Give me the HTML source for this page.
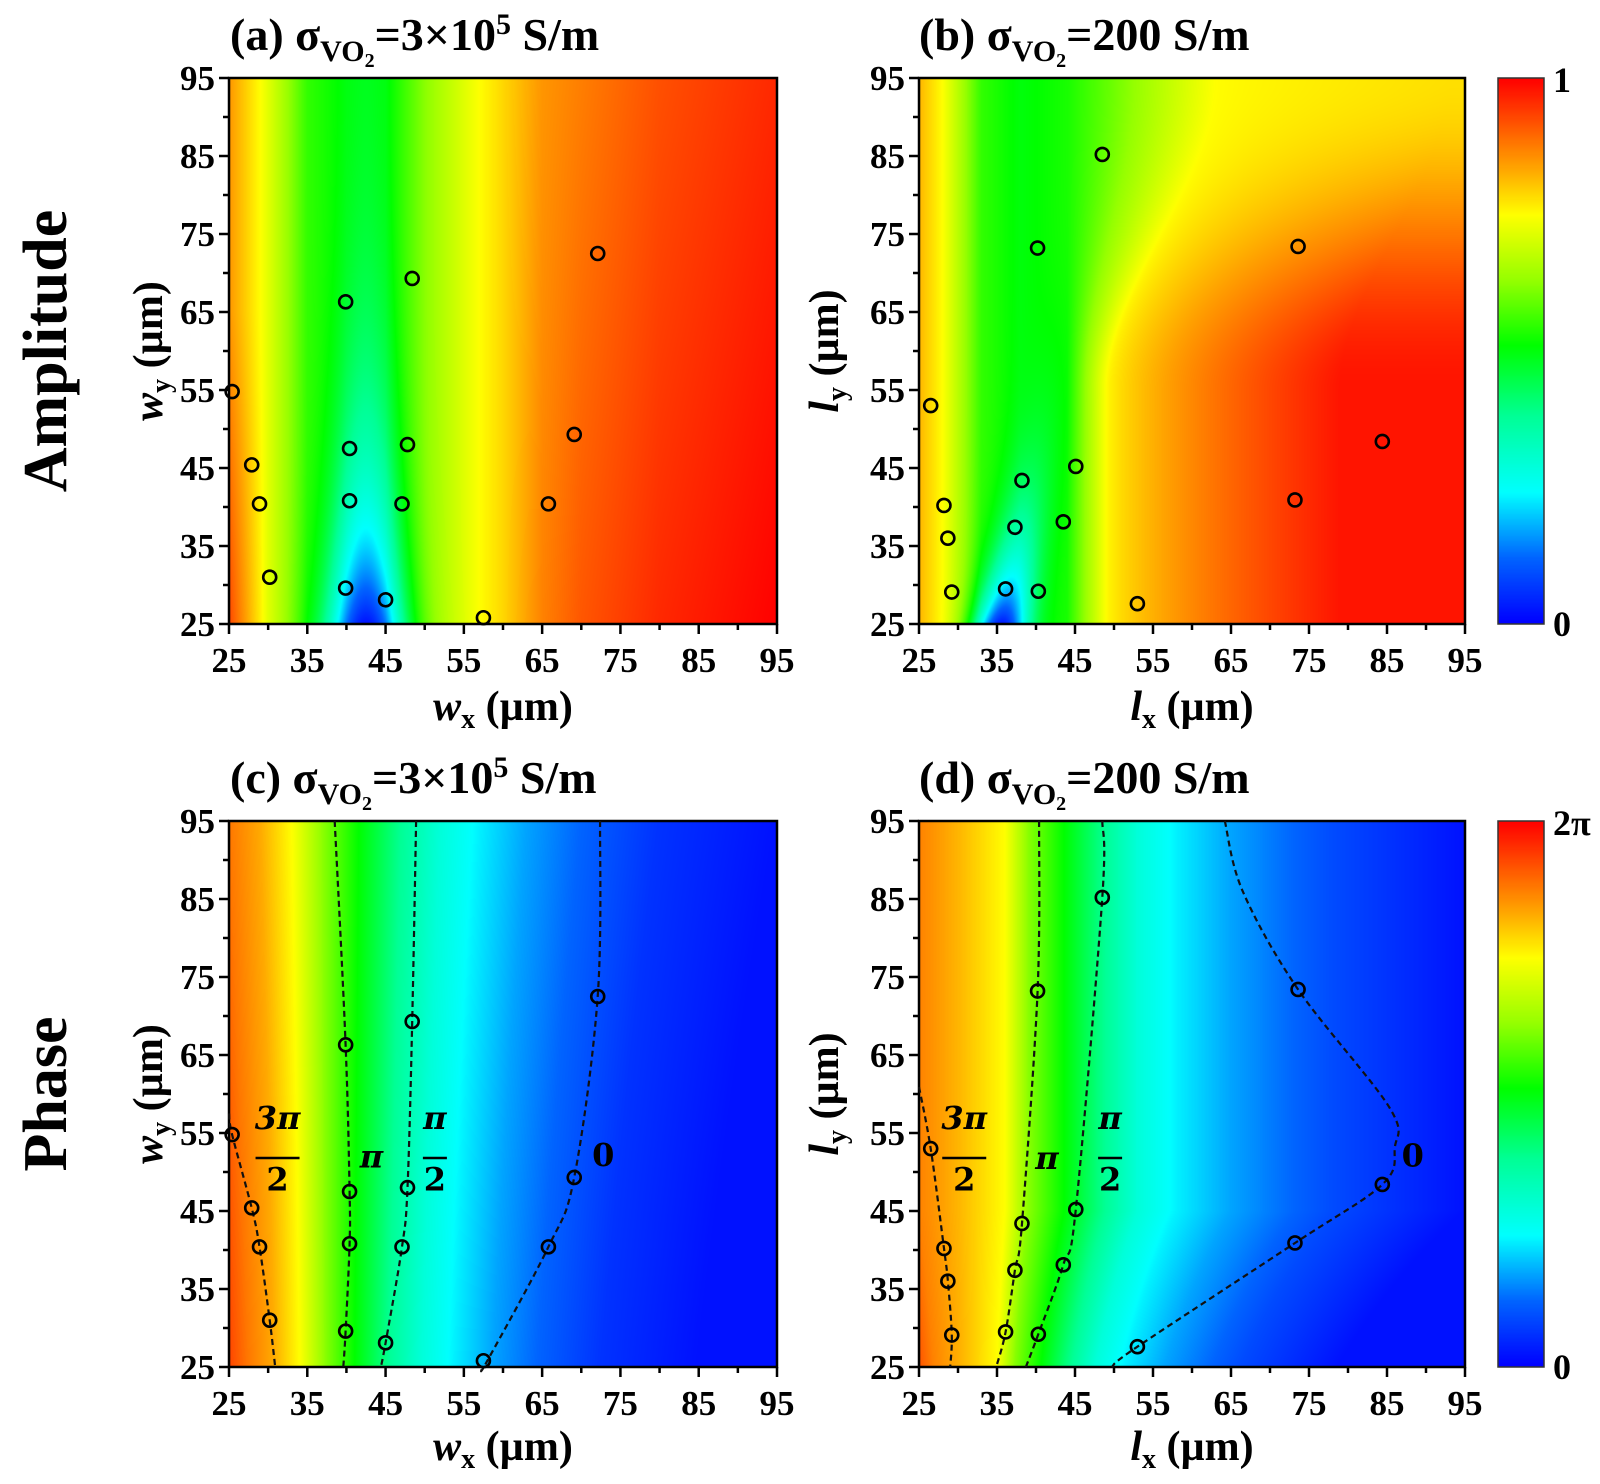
<!DOCTYPE html>
<html><head><meta charset="utf-8"><style>
html,body{margin:0;padding:0;background:#fff;}
#wrap{position:relative;width:1600px;height:1484px;overflow:hidden;background:#fff;}
canvas{position:absolute;}
svg{position:absolute;left:0;top:0;}
.t{font-family:"Liberation Serif",serif;font-weight:bold;fill:#000;}
.m{font-family:"DejaVu Serif","Liberation Serif",serif;font-weight:bold;fill:#000;}
</style></head><body><div id="wrap">
<canvas id="ca" width="548" height="546" style="left:229px;top:78px"></canvas>
<canvas id="cb" width="546" height="546" style="left:919px;top:78px"></canvas>
<canvas id="cc" width="548" height="546" style="left:229px;top:821px"></canvas>
<canvas id="cd" width="546" height="546" style="left:919px;top:821px"></canvas>
<canvas id="cbar1" width="46" height="546" style="left:1498px;top:78px"></canvas>
<canvas id="cbar2" width="46" height="546" style="left:1498px;top:821px"></canvas>
<svg id="ov" width="1600" height="1484" xmlns="http://www.w3.org/2000/svg">
<g class="t" font-size="46">
<text x="230" y="50">(a) σ<tspan dy="11" font-size="30">VO</tspan><tspan dy="6" font-size="20">2</tspan><tspan dy="-17">=3×10</tspan><tspan dy="-16" font-size="30">5</tspan><tspan dy="16"> S/m</tspan></text>
<text x="919" y="50">(b) σ<tspan dy="11" font-size="30">VO</tspan><tspan dy="6" font-size="20">2</tspan><tspan dy="-17">=200 S/m</tspan></text>
<text x="230" y="793">(c) σ<tspan dy="11" font-size="30">VO</tspan><tspan dy="6" font-size="20">2</tspan><tspan dy="-17">=3×10</tspan><tspan dy="-16" font-size="30">5</tspan><tspan dy="16"> S/m</tspan></text>
<text x="919" y="793">(d) σ<tspan dy="11" font-size="30">VO</tspan><tspan dy="6" font-size="20">2</tspan><tspan dy="-17">=200 S/m</tspan></text>
</g>
<g class="t" font-size="42">
<text x="503" y="720" text-anchor="middle"><tspan font-style="italic">w</tspan><tspan dy="8" font-size="28">x</tspan><tspan dy="-8"> (µm)</tspan></text>
<text x="1192" y="720" text-anchor="middle"><tspan font-style="italic">l</tspan><tspan dy="8" font-size="28">x</tspan><tspan dy="-8"> (µm)</tspan></text>
<text x="503" y="1460" text-anchor="middle"><tspan font-style="italic">w</tspan><tspan dy="8" font-size="28">x</tspan><tspan dy="-8"> (µm)</tspan></text>
<text x="1192" y="1460" text-anchor="middle"><tspan font-style="italic">l</tspan><tspan dy="8" font-size="28">x</tspan><tspan dy="-8"> (µm)</tspan></text>

<text transform="translate(162,351) rotate(-90)" text-anchor="middle"><tspan font-style="italic">w</tspan><tspan dy="8" font-size="28">y</tspan><tspan dy="-8"> (µm)</tspan></text>
<text transform="translate(838,351) rotate(-90)" text-anchor="middle"><tspan font-style="italic">l</tspan><tspan dy="8" font-size="28">y</tspan><tspan dy="-8"> (µm)</tspan></text>
<text transform="translate(162,1094) rotate(-90)" text-anchor="middle"><tspan font-style="italic">w</tspan><tspan dy="8" font-size="28">y</tspan><tspan dy="-8"> (µm)</tspan></text>
<text transform="translate(838,1094) rotate(-90)" text-anchor="middle"><tspan font-style="italic">l</tspan><tspan dy="8" font-size="28">y</tspan><tspan dy="-8"> (µm)</tspan></text>
</g>
<g class="t" font-size="62">
<text transform="translate(66,351) rotate(-90)" text-anchor="middle">Amplitude</text>
<text transform="translate(66,1094) rotate(-90)" text-anchor="middle">Phase</text>
</g>
<g class="t" font-size="36">
<text x="1553" y="92">1</text>
<text x="1553" y="636">0</text>
<text x="1553" y="835">2π</text>
<text x="1553" y="1379">0</text>
</g>
<g id="dyn"></g>
</svg>
</div>
<script>
(function(){
var NS="http://www.w3.org/2000/svg";
var dyn=document.getElementById('dyn');
function el(n,a){var e=document.createElementNS(NS,n);for(var k in a)e.setAttribute(k,a[k]);dyn.appendChild(e);return e;}
var P={a:{x0:229,y0:78,w:548,h:546},b:{x0:919,y0:78,w:546,h:546},c:{x0:229,y0:821,w:548,h:546},d:{x0:919,y0:821,w:546,h:546}};
function px(p,x){return p.x0+(x-25)/70*p.w;}
function py(p,y){return p.y0+(95-y)/70*p.h;}
function interp(t,x){if(x<=t[0][0])return t[0][1];for(var i=1;i<t.length;i++){if(x<=t[i][0]){var a=t[i-1],b=t[i];return a[1]+(b[1]-a[1])*(x-a[0])/(b[0]-a[0]);}}return t[t.length-1][1];}
var CM=[[0,0,0,255],[0.12,0,100,255],[0.24,0,255,255],[0.38,0,255,150],[0.51,0,255,0],[0.63,150,255,0],[0.75,255,255,0],[0.84,255,160,0],[0.92,255,80,0],[1,255,0,0]];
function cmap(v){v=Math.max(0,Math.min(1,v));for(var i=1;i<CM.length;i++){if(v<=CM[i][0]){var a=CM[i-1],b=CM[i],f=(v-a[0])/(b[0]-a[0]);return[a[1]+(b[1]-a[1])*f,a[2]+(b[2]-a[2])*f,a[3]+(b[3]-a[3])*f];}}return[255,0,0];}
function ss(t){t=Math.max(0,Math.min(1,t));return t*t*(3-2*t);}
var A=[[25,0.85],[29,0.75],[35,0.55],[40,0.5],[45,0.5],[50,0.62],[57,0.75],[65,0.85],[80,0.92],[95,0.96]];
function fa(x,y){var b=interp(A,x);b+=0.08*Math.max(0,1-(x-25)/5)*Math.max(0,1-(y-25)/40);
 if(x>60)b+=0.04*(1-(y-25)/70)*Math.min(1,(x-60)/10);
 var w=Math.max(2.2,4.8-0.04*(y-25));var d=0.48*Math.exp(-(y-25)/20)*Math.exp(-Math.pow((x-42.5)/w,2));return b-d;}
var BL=[[25,0.82],[28,0.75],[33,0.55],[38,0.5],[44,0.53]];
function fb(x,y){var t=ss((y-55)/40);var xb=49+14*t;var v;
 if(x<44)v=interp(BL,x);else if(x<xb)v=0.53+0.22*(x-44)/(xb-44);
 else{var Rt=0.98-0.2*t;v=0.75+(Rt-0.75)*Math.pow(Math.min(1,(x-xb)/30),0.7);}
 var d=0.5*Math.exp(-(y-25)/10)*Math.exp(-Math.pow((x-(35.5+0.2*(y-25)))/3.4,2));return v-d;}
var PC=[[18,1.0],[25,0.88],[29,0.83],[33,0.75],[37,0.62],[42,0.5],[47,0.38],[52,0.29],[57,0.23],[63,0.17],[70,0.12],[80,0.06],[95,0.02]];
function fc(x,y){var f=Math.max(0,1-(y-25)/70);var s=1+0.22*f;var xp=(x-25)*s+25-3*f;return interp(PC,xp);}
var PD=[[18,1.0],[25,0.87],[30,0.82],[36,0.75],[39,0.62],[44,0.5],[48,0.4],[53,0.29],[58,0.23],[65,0.17],[78,0.09],[95,0.02]];
function fd(x,y){var f=Math.max(0,(45-y)/20);var s=1+0.35*f;var xp=(x-25)*s+25-2.5*f;return interp(PD,xp);}
function paint(id,p,fn){var c=document.getElementById(id),ctx=c.getContext('2d');var W=c.width,H=c.height;var im=ctx.createImageData(W,H);
 for(var j=0;j<H;j++){var y=95-(j+0.5)/H*70;for(var i=0;i<W;i++){var x=25+(i+0.5)/W*70;var col=cmap(fn(x,y));var k=(j*W+i)*4;im.data[k]=col[0];im.data[k+1]=col[1];im.data[k+2]=col[2];im.data[k+3]=255;}}
 ctx.putImageData(im,0,0);}
paint('ca',P.a,fa);paint('cb',P.b,fb);paint('cc',P.c,fc);paint('cd',P.d,fd);
['cbar1','cbar2'].forEach(function(id){var c=document.getElementById(id),ctx=c.getContext('2d');for(var j=0;j<c.height;j++){var col=cmap(1-j/(c.height-1));ctx.fillStyle='rgb('+Math.round(col[0])+','+Math.round(col[1])+','+Math.round(col[2])+')';ctx.fillRect(0,j,c.width,1);}});
['a','b','c','d'].forEach(function(k){var p=P[k];
 el('rect',{x:p.x0,y:p.y0,width:p.w,height:p.h,fill:'none',stroke:'#000','stroke-width':2.5});
 for(var v=25;v<=95;v+=5){var maj=((v-25)%10===0);var L=maj?10:6;
  var X=px(p,v);el('line',{x1:X,y1:p.y0+p.h,x2:X,y2:p.y0+p.h+L,stroke:'#000','stroke-width':2.5});
  var Y=py(p,v);el('line',{x1:p.x0,y1:Y,x2:p.x0-L,y2:Y,stroke:'#000','stroke-width':2.5});
  if(maj){var t=el('text',{x:X,y:p.y0+p.h+48,'text-anchor':'middle','class':'t','font-size':35});t.textContent=v;
   var t2=el('text',{x:p.x0-14,y:Y+12,'text-anchor':'end','class':'t','font-size':35});t2.textContent=v;}
 }});
[[1498,78],[1498,821]].forEach(function(q){el('rect',{x:q[0],y:q[1],width:46,height:546,fill:'none',stroke:'#333','stroke-width':1.5});});
function cr(p,pts){var Q=pts.map(function(a){return[px(p,a[0]),py(p,a[1])];});var d='M'+Q[0][0].toFixed(1)+','+Q[0][1].toFixed(1);
 for(var i=0;i<Q.length-1;i++){var p0=Q[i-1]||Q[i],p1=Q[i],p2=Q[i+1],p3=Q[i+2]||Q[i+1];
  var c1=[p1[0]+(p2[0]-p0[0])/6,p1[1]+(p2[1]-p0[1])/6],c2=[p2[0]-(p3[0]-p1[0])/6,p2[1]-(p3[1]-p1[1])/6];
  d+=' C'+c1[0].toFixed(1)+','+c1[1].toFixed(1)+' '+c2[0].toFixed(1)+','+c2[1].toFixed(1)+' '+p2[0].toFixed(1)+','+p2[1].toFixed(1);}
 el('path',{d:d,fill:'none',stroke:'#111','stroke-width':2.2,'stroke-dasharray':'6 4'});}
var CC=[[[25,57.5],[25.4,54.8],[27.9,45.4],[28.9,40.4],[30.2,31.0],[30.9,25]],
[[38.5,95],[39.9,66.3],[40.4,47.5],[40.4,40.8],[39.9,29.6],[39.6,25]],
[[48.9,95],[48.4,69.3],[47.8,48.0],[47.1,40.4],[45.0,28.1],[44.4,25]],
[[72.4,95],[72.1,72.5],[69.1,49.3],[65.8,40.4],[58.0,25.8],[57.4,25]]];
var DC=[[[25,60.9],[26.5,53.0],[28.2,40.2],[28.7,36.0],[29.2,29.1],[29.0,25]],
[[40.4,95],[40.2,73.2],[38.2,43.4],[37.3,37.4],[36.1,29.5],[34.9,25]],
[[48.5,95],[48.5,85.2],[45.1,45.2],[43.5,38.1],[40.3,29.2],[38.7,25]],
[[64.2,95],[66.5,86],[73.6,73.4],[85.3,58.3],[86.0,53.1],[84.4,48.4],[73.2,40.9],[53.0,27.6],[49.7,25]]];
CC.forEach(function(c){cr(P.c,c);});DC.forEach(function(c){cr(P.d,c);});
var PA=[[25.4,54.8],[27.9,45.4],[28.9,40.4],[30.2,31.0],[39.9,66.3],[40.4,47.5],[40.4,40.8],[39.9,29.6],[45.0,28.1],[48.4,69.3],[47.8,48.0],[47.1,40.4],[57.5,25.8],[72.1,72.5],[69.1,49.3],[65.8,40.4]];
var PB=[[26.5,53.0],[28.2,40.2],[28.7,36.0],[29.2,29.1],[40.2,73.2],[38.2,43.4],[37.3,37.4],[36.1,29.5],[48.5,85.2],[45.1,45.2],[43.5,38.1],[40.3,29.2],[73.6,73.4],[84.4,48.4],[73.2,40.9],[53.0,27.6]];
function circ(p,pts){pts.forEach(function(a){el('circle',{cx:px(p,a[0]),cy:py(p,a[1]),r:6.5,fill:'none',stroke:'#000','stroke-width':2.6});});}
circ(P.a,PA);circ(P.c,PA);circ(P.b,PB);circ(P.d,PB);
function lab(p,x,y,s,it){var a={x:px(p,x),y:py(p,y),'text-anchor':'middle','class':'m','font-size':32};if(it)a['font-style']='italic';var t=el('text',a);t.textContent=s;}
function frac(p,x,top){lab(p,x,55.5,top,true);var X=px(p,x),Y=py(p,51.8);el('line',{x1:X-(top.length>1?22:12),y1:Y,x2:X+(top.length>1?22:12),y2:Y,stroke:'#000','stroke-width':2.5});lab(p,x,47.6,'2');}
frac(P.c,31.2,'3π');lab(P.c,43.2,50.6,'π',true);frac(P.c,51.3,'π');lab(P.c,72.8,50.8,'0');
frac(P.d,30.8,'3π');lab(P.d,41.4,50.4,'π',true);frac(P.d,49.5,'π');lab(P.d,88.3,50.7,'0');
})();
</script>
</body></html>
